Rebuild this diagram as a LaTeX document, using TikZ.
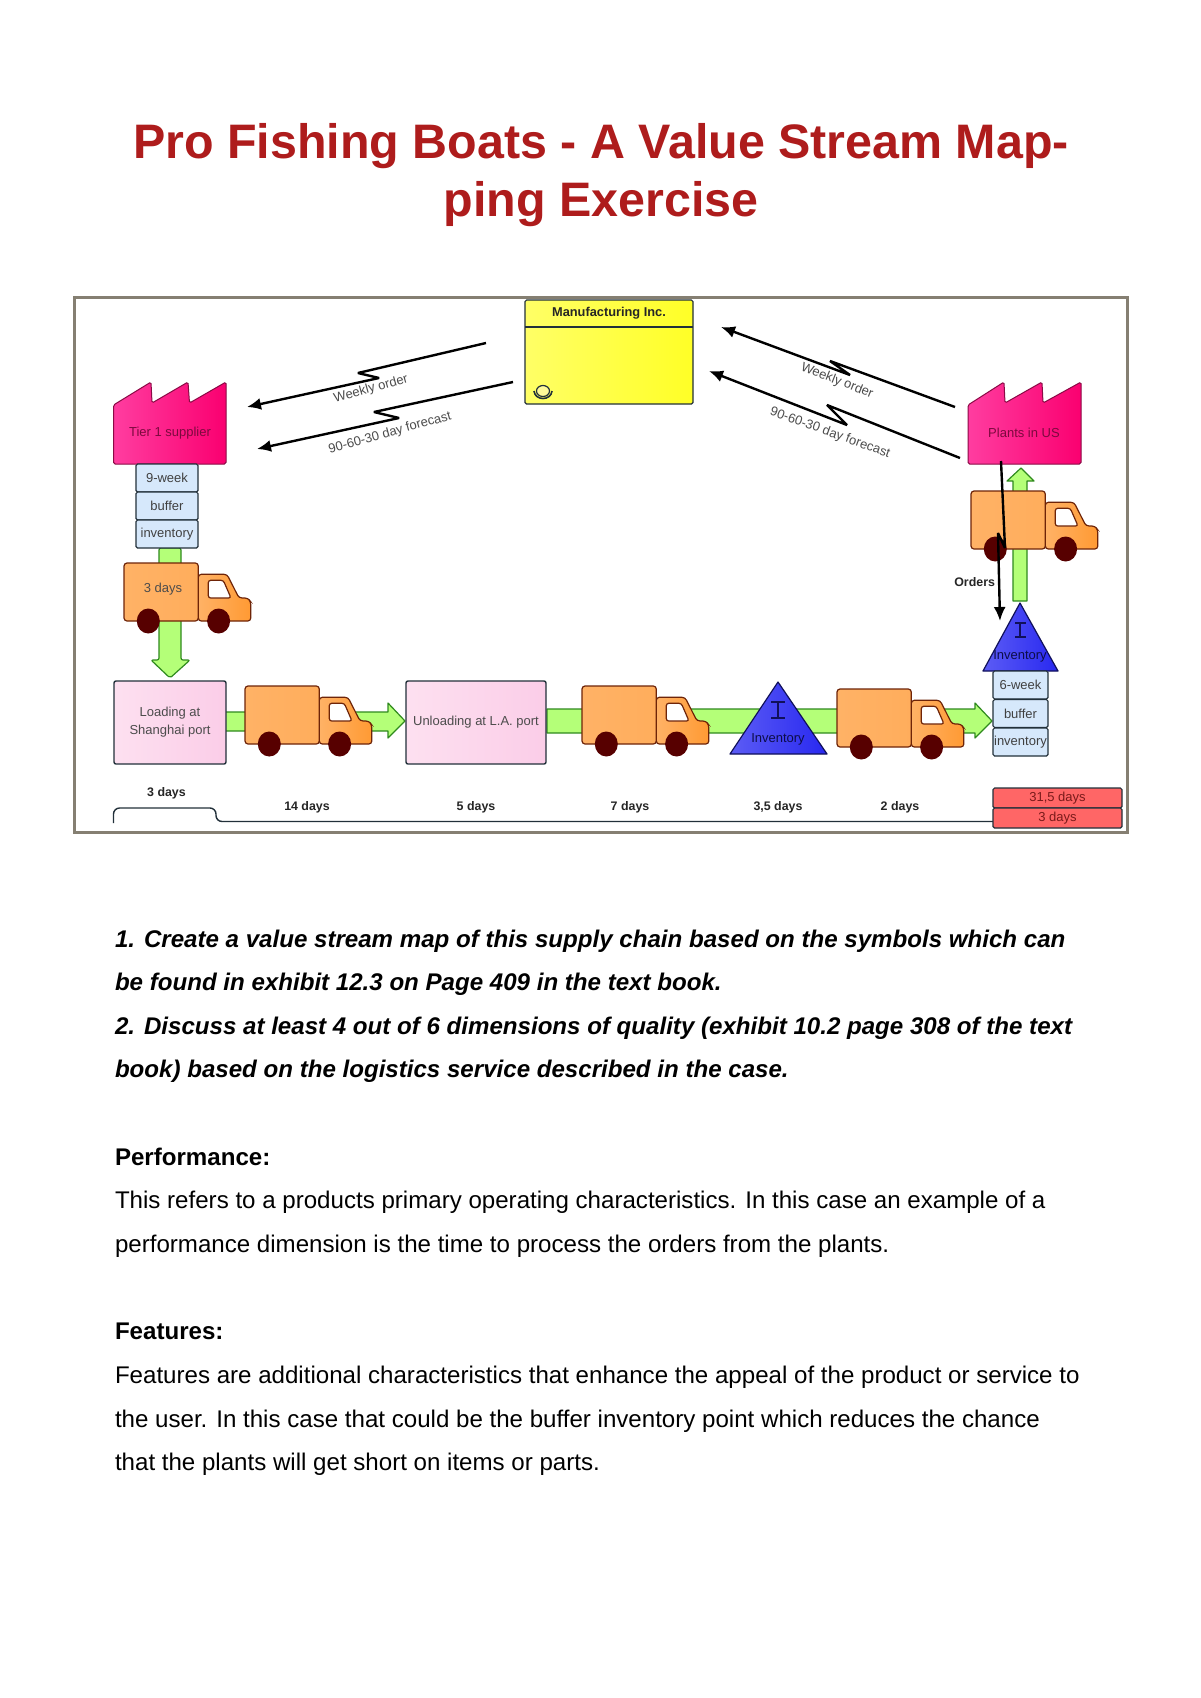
\documentclass[tikz,border=0pt]{standalone}
\usepackage{fontspec}
\setmainfont{Liberation Sans}
\usetikzlibrary{arrows.meta,shapes.geometric}
\definecolor{frameC}{HTML}{857F72}
\definecolor{titleC}{HTML}{AE1C1C}
\definecolor{truckL}{HTML}{FFB266}
\definecolor{truckR}{HTML}{FF9A33}
\definecolor{truckD}{HTML}{6E2408}
\definecolor{wheelC}{HTML}{570000}
\definecolor{greenF}{HTML}{B4FF78}
\definecolor{greenD}{HTML}{2F8A1E}
\definecolor{factL}{HTML}{FF3DA0}
\definecolor{factR}{HTML}{FA0070}
\definecolor{factD}{HTML}{8A0A45}
\definecolor{bufC}{HTML}{D6E8FB}
\definecolor{darkC}{HTML}{22303A}
\definecolor{pinkL}{HTML}{FDE0F0}
\definecolor{pinkR}{HTML}{FBCDE8}
\definecolor{triL}{HTML}{5C5CF5}
\definecolor{triR}{HTML}{2828F0}
\definecolor{triD}{HTML}{10105A}
\definecolor{redF}{HTML}{FF6666}
\definecolor{redT}{HTML}{7A1A1A}
\tikzset{
  x=0.5pt,y=-0.5pt,
  every node/.style={inner sep=0pt,outer sep=0pt,font=\fontsize{6.5}{8}\selectfont,align=center},
  factory/.style={draw=factD,line width=0.5pt,rounded corners=0.8pt,left color=factL,right color=factR},
  facttext/.style={text=factD!90!black},
  bufbox/.style={draw=darkC,line width=0.6pt,fill=bufC,rounded corners=0.8pt,minimum width=31pt,minimum height=14pt,text=black!75},
  portbox/.style={draw=darkC,line width=0.7pt,left color=pinkL,right color=pinkR,rounded corners=1pt,minimum height=41.5pt,text=black!70},
  flowarrow/.style={draw=greenD,line width=0.6pt,fill=greenF,line join=round},
  signal/.style={draw=black,line width=1.2pt,line join=bevel,-{Latex[length=7pt,width=6pt]}},
  sigtext/.style={text=black!70},
  tri/.style={draw=triD,line width=0.6pt,left color=triL,right color=triR,line join=round},
  tritext/.style={text=triD!80!black},
  daylabel/.style={font=\fontsize{6.2}{8}\selectfont\bfseries,text=black!85},
  redbox/.style={draw=darkC,line width=0.6pt,fill=redF,rounded corners=0.8pt,minimum width=64.5pt,text=redT},
  bodyline/.style={anchor=base west,font=\fontsize{12.05}{14}\selectfont},
  boldline/.style={bodyline,font=\fontsize{12.05}{14}\selectfont\bfseries},
  bilines/.style={bodyline,font=\fontsize{12.05}{14}\selectfont\bfseries\itshape},
  titleline/.style={anchor=base,font=\fontsize{24.2}{28}\selectfont\bfseries,text=titleC},
  truckpic/.pic={
    \draw[draw=truckD,line width=0.6pt,left color=truckL,right color=truckR,rounded corners=1.5pt]
      (74.3,11.3) -- (103,11.3) -- (115,35) -- (124,35) -- (126.8,39) -- (126.8,58) -- (74.3,58) -- cycle;
    \draw[draw=truckD,line width=0.6pt,left color=truckL,right color=truckL!80!truckR,rounded corners=1.5pt]
      (0,0) rectangle (74.3,58);
    \draw[draw=truckD,line width=0.6pt,fill=white,rounded corners=1.2pt]
      (84.3,17.3) -- (99.3,17.3) -- (107,35) -- (84.3,35) -- cycle;
    \fill[wheelC] (24.3,58) ellipse (11.5 and 12.5);
    \fill[wheelC] (94.6,58) ellipse (11.5 and 12.5);
  }
}
\begin{document}
\begin{tikzpicture}
\useasboundingbox (0,0) rectangle (1200,1698);
\fill[white] (0,0) rectangle (1200,1698);
% title
\node[titleline] (title1) at (601,158) {Pro Fishing Boats - A Value Stream Map-};
\node[titleline] (title2) at (601,216) {ping Exercise};
% frame
\draw[frameC,line width=1.5pt] (74,297) rectangle (1127,832);

% flow arrows (behind everything)
\draw[flowarrow,rounded corners=1pt] (159,548) -- (181,548) -- (181,660) -- (190,660) -- (170,678) -- (151,660) -- (159,660) -- cycle;
\draw[flowarrow] (224,712) -- (388,712) -- (388,703) -- (405,721) -- (388,738) -- (388,731) -- (224,731) -- cycle;
\draw[flowarrow] (547,709) -- (975,709) -- (975,703) -- (992,721) -- (975,738) -- (975,733) -- (547,733) -- cycle;
\draw[flowarrow] (1013,601) -- (1013,481) -- (1007,481) -- (1021,468) -- (1034,481) -- (1027,481) -- (1027,601) -- cycle;

% manufacturing
\node[draw=darkC,line width=0.6pt,left color=yellow!60,right color=yellow!85,rounded corners=0.8pt,
      minimum width=84pt,minimum height=52pt] (mfg) at (609,352) {};
\coordinate (mfgdivL) at (525,327);
\coordinate (mfgdivR) at (693,327);
\draw[darkC,line width=0.6pt] (mfgdivL) -- (mfgdivR);
\node[font=\fontsize{6.4}{8}\selectfont\bfseries,text=black!85] (mfgtitle) at (609,313) {Manufacturing Inc.};
\draw[darkC,line width=0.6pt,fill=yellow!40] (543,391) ellipse (6.5 and 5.5);
\draw[darkC,line width=0.8pt] (534,391) .. controls (535,401) and (551,401) .. (552,391);

% factories
\draw[factory] (113.5,464) -- (113.5,405) -- (151,382) -- (152,403) -- (188,382) -- (189.5,403) -- (226,382) -- (226,464) -- cycle;
\node[facttext] (tier) at (170,433) {Tier 1 supplier};
\draw[factory] (968,464) -- (968,405) -- (1004,382) -- (1005,403) -- (1042,382) -- (1043,403) -- (1081,382) -- (1081,464) -- cycle;
\node[facttext] (plants) at (1024,433) {Plants in US};

% left buffer
\node[bufbox] (b1a) at (167,478) {9-week};
\node[bufbox] (b1b) at (167,506) {buffer};
\node[bufbox] (b1c) at (167,534) {inventory};

% ports
\node[portbox,minimum width=56pt] (load) at (170,722.5) {Loading at\\[1pt]Shanghai port};
\node[portbox,minimum width=70pt] (unload) at (476,722.5) {Unloading at L.A. port};

% trucks
\pic at (124,563) {truckpic};
\node[text=black!70] (t1lab) at (163,589) {3 days};
\pic at (245,686) {truckpic};
\pic at (582,686) {truckpic};
\pic at (837,689) {truckpic};
\pic at (971,491) {truckpic};

% triangles
\draw[tri] (778,682) -- (827,754) -- (730,754) -- cycle;
\draw[triD,line width=0.6pt] (771,702) -- (785,702) (778,702) -- (778,718) (771,718) -- (785,718);
\node[tritext] (inv1) at (778,739) {Inventory};
\draw[tri] (1020,603) -- (1058,671) -- (983,671) -- cycle;
\draw[triD,line width=0.6pt] (1015,623) -- (1026,623) (1020,623) -- (1020,637) (1015,637) -- (1026,637);
\node[tritext] (inv2) at (1020,656) {Inventory};

% right buffer
\node[bufbox,minimum width=27.5pt] (b2a) at (1020.5,685) {6-week};
\node[bufbox,minimum width=27.5pt] (b2b) at (1020.5,713.5) {buffer};
\node[bufbox,minimum width=27.5pt] (b2c) at (1020.5,742) {inventory};

% information arrows
\coordinate (s1) at (486,343); \coordinate (s1a) at (358,373); \coordinate (s1b) at (379,378); \coordinate (e1) at (247,407);
\draw[signal] (s1) -- (s1a) -- (s1b) -- (e1);
\coordinate (s2) at (513,382); \coordinate (s2a) at (374,412); \coordinate (s2b) at (399,418); \coordinate (e2) at (257,449);
\draw[signal] (s2) -- (s2a) -- (s2b) -- (e2);
\coordinate (s3) at (955,407); \coordinate (s3a) at (830,361); \coordinate (s3b) at (850,375); \coordinate (e3) at (721,327);
\draw[signal] (s3) -- (s3a) -- (s3b) -- (e3);
\coordinate (s4) at (960,458); \coordinate (s4a) at (827,405); \coordinate (s4b) at (847,425); \coordinate (e4) at (709,371);
\draw[signal] (s4) -- (s4a) -- (s4b) -- (e4);
\coordinate (s5) at (1001,461); \coordinate (s5a) at (1005,548); \coordinate (s5b) at (998,533); \coordinate (e5) at (1000,621);
\draw[signal] (s5) -- (s5a) -- (s5b) -- (e5);
\node[sigtext,rotate=15.7] (wo1) at (371,389) {Weekly order};
\node[sigtext,rotate=15.4] (fc1) at (390,433) {90-60-30 day forecast};
\node[sigtext,rotate=-21.5] (wo2) at (837,381) {Weekly order};
\node[sigtext,rotate=-19.8] (fc2) at (830,433) {90-60-30 day forecast};
\node[daylabel,anchor=east] (orders) at (995,582) {Orders};

% timeline
\coordinate (tl0) at (113.5,823); \coordinate (tl1) at (113.5,808); \coordinate (tl2) at (216,808);
\coordinate (tl3) at (216,821.5); \coordinate (tl4) at (993,821.5);
\draw[darkC,line width=0.7pt,rounded corners=3pt] (tl0) -- (tl1) -- (tl2) -- (tl3) -- (tl4);
\node[daylabel] (d1) at (166.5,793) {3 days};
\node[daylabel] (d2) at (307,807) {14 days};
\node[daylabel] (d3) at (476,807) {5 days};
\node[daylabel] (d4) at (630,807) {7 days};
\node[daylabel] (d5) at (778,807) {3,5 days};
\node[daylabel] (d6) at (900,807) {2 days};
\node[redbox,minimum height=10pt] (r1) at (1057.5,798) {31,5 days};
\node[redbox,minimum height=10pt] (r2) at (1057.5,818) {3 days};

% body text
\node[bilines] (l1) at (115,947) {1. Create a value stream map of this supply chain based on the symbols which can};
\node[bilines] (l2) at (115,990.5) {be found in exhibit 12.3 on Page 409 in the text book.};
\node[bilines] (l3) at (115,1034) {2. Discuss at least 4 out of 6 dimensions of quality (exhibit 10.2 page 308 of the text};
\node[bilines] (l4) at (115,1077.5) {book) based on the logistics service described in the case.};
\node[boldline] (l5) at (115,1165) {Performance:};
\node[bodyline] (l6) at (115,1208.5) {This refers to a products primary operating characteristics. In this case an example of a};
\node[bodyline] (l7) at (115,1252) {performance dimension is the time to process the orders from the plants.};
\node[boldline] (l8) at (115,1339.5) {Features:};
\node[bodyline] (l9) at (115,1383) {Features are additional characteristics that enhance the appeal of the product or service to};
\node[bodyline] (l10) at (115,1427) {the user. In this case that could be the buffer inventory point which reduces the chance};
\node[bodyline] (l11) at (115,1470.5) {that the plants will get short on items or parts.};
\end{tikzpicture}
\end{document}
